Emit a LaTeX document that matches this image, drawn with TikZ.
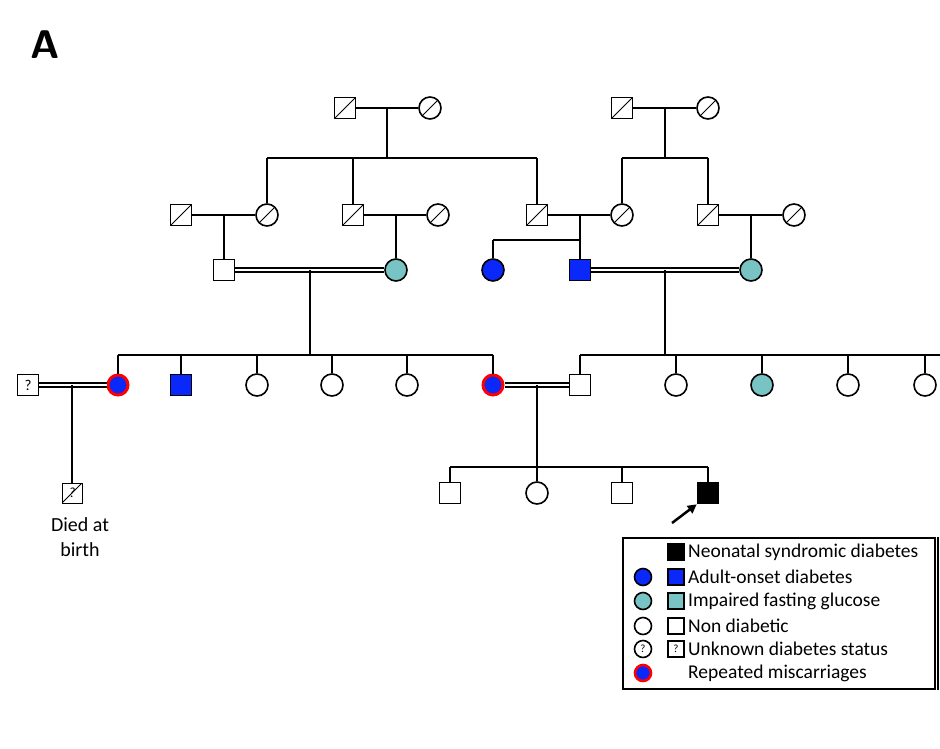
\documentclass[tikz,border=0pt]{standalone}
\usepackage{fontspec}
\setmainfont{Carlito}
\usetikzlibrary{arrows.meta}
\definecolor{adult}{RGB}{10,40,250}
\definecolor{ifg}{RGB}{120,195,195}
\tikzset{
  person/.style = {draw=black, line width=1.6pt, inner sep=0pt},
  male/.style = {person, rectangle, minimum size=21pt},
  female/.style = {person, circle, minimum size=22pt},
  ad/.style = {fill=adult},
  ig/.style = {fill=ifg},
  misc/.style = {female, fill=adult, draw=red, line width=3pt, minimum size=20pt},
  dead/.style = {path picture={\draw[line width=0.8pt] ([shift={(-4pt,-4pt)}]path picture bounding box.south west) -- ([shift={(4pt,4pt)}]path picture bounding box.north east);}},
  link/.style = {line width=1.6pt},
  dbl/.style = {double, double distance=2.6pt, line width=1.6pt},
  lbl/.style = {font=\fontsize{19.5pt}{20pt}\selectfont, anchor=west, inner sep=0pt}
}
\begin{document}
\begin{tikzpicture}[x=1pt,y=-1pt]
\useasboundingbox (0,0) rectangle (940,748);
\node[font=\sffamily\bfseries\fontsize{40pt}{40pt}\selectfont] at (45,45) {A};
% generation I
\node[male,dead] (m1) at (345,108) {};
\node[female,dead] (f1) at (430,108) {};
\node[male,dead] (m2) at (622,108) {};
\node[female,dead] (f2) at (708,108) {};
\draw[link] (m1) -- (f1) (m2) -- (f2);
\draw[link] (387,108) -- (387,158) (267,158) -- (537,158);
\draw[link] (665,108) -- (665,158) (622,158) -- (708,158);
% generation II
\node[male,dead] (a1) at (181,215) {};
\node[female,dead] (a2) at (267,215) {};
\node[male,dead] (b1) at (353,215) {};
\node[female,dead] (b2) at (438,215) {};
\node[male,dead] (c1) at (537,215) {};
\node[female,dead] (c2) at (622,215) {};
\node[male,dead] (d1) at (708,215) {};
\node[female,dead] (d2) at (794,215) {};
\draw[link] (a2) -- (267,158) (b1) -- (353,158) (c1) -- (537,158);
\draw[link] (c2) -- (622,158) (d1) -- (708,158);
\draw[link] (a1) -- (a2) (b1) -- (b2) (c1) -- (c2) (d1) -- (d2);
% generation III
\node[male] (e1) at (224,270) {};
\node[female,ig] (e2) at (396,270) {};
\node[female,ad] (g1) at (493,270) {};
\node[male,ad] (h1) at (580,270) {};
\node[female,ig] (h2) at (751,270) {};
\draw[link] (224,215) -- (e1) (396,215) -- (e2);
\draw[link] (580,215) -- (580,240) (493,240) -- (580,240) (493,240) -- (g1) (580,240) -- (h1);
\draw[link] (751,215) -- (h2);
\draw[dbl] (e1) -- (e2);
\draw[dbl] (h1) -- (h2);
\draw[link] (310,270) -- (310,355) (118,355) -- (493,355);
\draw[link] (665,270) -- (665,355) (580,355) -- (940,355);
% generation IV
\node[male,font=\fontsize{15pt}{15pt}\selectfont] (u1) at (28,385) {?};
\node[misc] (k1) at (118,385) {};
\node[male,ad] (k2) at (181,385) {};
\node[female] (k3) at (257,385) {};
\node[female] (k4) at (332,385) {};
\node[female] (k5) at (407,385) {};
\node[misc] (k6) at (493,385) {};
\node[male] (n1) at (580,385) {};
\node[female] (n2) at (676,385) {};
\node[female,ig] (n3) at (762,385) {};
\node[female] (n4) at (848,385) {};
\node[female] (n5) at (925,385) {};
\foreach \k/\x in {k1/118,k2/181,k3/257,k4/332,k5/407,k6/493,n1/580,n2/676,n3/762,n4/848,n5/925}
  \draw[link] (\x,355) -- (\k);
\draw[dbl] (u1) -- (k1);
\draw[dbl] (k6) -- (n1);
% generation V
\node[male,dead,line width=1pt,minimum size=20pt,font=\fontsize{14pt}{14pt}\selectfont\itshape] (s1) at (72,493) {?};
\node[align=center, font=\fontsize{20pt}{25pt}\selectfont] (s1t) at (80,537) {Died at\\birth};
\draw[link] (72,385) -- (s1);
\node[male] (p1) at (450,493) {};
\node[female] (p2) at (537,493) {};
\node[male] (p3) at (622,493) {};
\node[male,fill=black] (p4) at (708,493) {};
\draw[link] (537,385) -- (537,467) (450,467) -- (708,467);
\foreach \p/\x in {p1/450,p2/537,p3/622,p4/708}
  \draw[link] (\x,467) -- (\p);
\coordinate (arr) at (672,523);
\draw[line width=2.5pt,-{Triangle[length=9pt,width=9pt]}] (arr) -- (p4.south west);
% legend
\node[draw, line width=2pt, minimum width=312pt, minimum height=151pt, anchor=north west, inner sep=0pt] (key) at (622,537) {};
\coordinate (kt) at (938,537);
\coordinate (kb) at (938,690);
\draw[line width=2pt] (kt) -- (kb);
\node[male,fill=black,minimum size=16pt] (l1s) at (676,552) {};
\node[female,ad,minimum size=17pt] (l2c) at (643,577) {};
\node[male,ad,minimum size=16pt] (l2s) at (676,577) {};
\node[female,ig,minimum size=17pt] (l3c) at (643,601) {};
\node[male,ig,minimum size=16pt] (l3s) at (676,601) {};
\node[female,minimum size=17pt] (l4c) at (643,626) {};
\node[male,minimum size=16pt] (l4s) at (676,626) {};
\node[female,minimum size=17pt,font=\fontsize{11pt}{11pt}\selectfont] (l5c) at (643,649) {?};
\node[male,minimum size=16pt,font=\fontsize{11pt}{11pt}\selectfont] (l5s) at (676,649) {?};
\node[misc,minimum size=16pt,line width=2.6pt] (l6c) at (643,673) {};
\node[lbl] at (688,552) {Neonatal syndromic diabetes};
\node[lbl] at (688,577) {Adult-onset diabetes};
\node[lbl] at (688,601) {Impaired fasting glucose};
\node[lbl] at (688,626) {Non diabetic};
\node[lbl] at (688,649) {Unknown diabetes status};
\node[lbl] at (688,673) {Repeated miscarriages};
\end{tikzpicture}
\end{document}
